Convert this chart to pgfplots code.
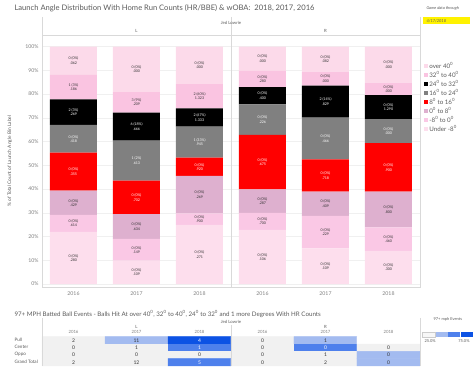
\documentclass[border=0pt]{standalone}
\usepackage{fontspec}
\setmainfont{Lato}
\usepackage{pgfplots}
\pgfplotsset{compat=1.18}
\definecolor{cforty}{RGB}{252,218,234}
\definecolor{cthirty}{RGB}{250,196,225}
\definecolor{cgray}{RGB}{128,128,128}
\definecolor{cred}{RGB}{255,0,0}
\definecolor{czero}{RGB}{222,176,207}
\definecolor{cmeight}{RGB}{250,200,229}
\definecolor{cunder}{RGB}{253,222,237}
\definecolor{txt}{RGB}{90,90,90}
\definecolor{bl1}{RGB}{163,187,240}
\definecolor{bl2}{RGB}{78,128,236}
\definecolor{bl3}{RGB}{12,82,228}
\newcommand{\dg}{\textsuperscript{0}}
\pgfplotsset{sq legend/.style={legend image code/.code={\fill[##1] (0pt,-2.2pt) rectangle (4.4pt,2.2pt);}}}
\begin{document}
\begin{tikzpicture}
\useasboundingbox (0,0) rectangle (474pt,371pt);
% main stacked bars
\begin{axis}[
  at={(42pt,84pt)}, anchor=south west,
  scale only axis, width=378pt, height=252pt,
  xmin=-0.5, xmax=5.5, ymin=-1.26, ymax=104.9,
  ybar stacked, bar width=47pt,
  axis line style={draw=gray!30, line width=0.4pt},
  xtick={0,...,5}, xticklabels={2016,2017,2018,2016,2017,2018},
  ytick={0,10,...,100},
  yticklabel={\pgfmathprintnumber{\tick}\%},
  /pgf/number format/assume math mode=true,
  major tick length=0pt,
  tick label style={font=\fontsize{5.2}{6}\selectfont, text=gray},
  xticklabel style={yshift=-1pt},
  ymajorgrids, grid style={gray!12, line width=0.4pt},
  ylabel={\% of Total Count of Launch Angle Bin Label},
  ylabel style={font=\fontsize{4.8}{6}\selectfont, text=txt, at={(axis description cs:-0.07,0.5)}},
  legend style={at={(1.01,0.895)}, anchor=north west, draw=none, fill=none,
    font=\fontsize{6.2}{7}\selectfont, text=txt, row sep=-0.2pt, inner sep=0pt,
    nodes={inner sep=1pt}},
  legend cell align=left,
  reverse legend,
]
\addplot[fill=cunder, draw=none, sq legend] coordinates {(0,22.0) (1,9.8) (2,24.9) (3,22.8) (4,15.0) (5,14.0)};
\addplot[fill=cmeight, draw=none, sq legend] coordinates {(0,7.1) (1,9.2) (2,4.9) (3,7.2) (4,13.7) (5,9.9)};
\addplot[fill=czero, draw=none, sq legend] coordinates {(0,10.2) (1,10.4) (2,15.7) (3,9.9) (4,10.2) (5,15.0)};
\addplot[fill=cred, draw=none, sq legend] coordinates {(0,16.0) (1,14.1) (2,7.7) (3,22.9) (4,13.6) (5,20.4)};
\addplot[fill=cgray, draw=none, sq legend] coordinates {(0,11.7) (1,16.9) (2,13.1) (3,12.9) (4,17.6) (5,10.2)};
\addplot[fill=black, draw=none, sq legend] coordinates {(0,10.8) (1,11.8) (2,7.7) (3,7.2) (4,13.5) (5,10.1)};
\addplot[fill=cthirty, draw=none, sq legend] coordinates {(0,10.3) (1,8.6) (2,10.2) (3,6.9) (4,5.9) (5,5.2)};
\addplot[fill=cforty, draw=none, sq legend] coordinates {(0,11.9) (1,19.2) (2,15.8) (3,10.2) (4,10.5) (5,15.2)};
\legend{Under -8\dg, -8\dg{} to 0\dg, 0\dg{} to 8\dg, 8\dg{} to 16\dg, 16\dg{} to 24\dg, 24\dg{} to 32\dg, 32\dg{} to 40\dg, over 40\dg}
\end{axis}
% segment labels
\begin{axis}[
  at={(42pt,84pt)}, anchor=south west,
  scale only axis, width=378pt, height=252pt,
  xmin=-0.5, xmax=5.5, ymin=-1.26, ymax=104.9,
  axis lines=none, clip=false,
  nodes near coords, point meta=explicit symbolic,
  every node near coord/.append style={anchor=center, align=center, inner sep=0pt,
    font=\fontsize{3.6}{4.4}\selectfont},
]
\addplot[draw=none, nodes near coords style={text=black!80}] coordinates {
 (0,11.0) [{0 (0\%)\\.280}] (0,25.55) [{0 (0\%)\\.614}] (0,34.2) [{0 (0\%)\\.429}] (0,82.95) [{1 (3\%)\\.186}] (0,94.05) [{0 (0\%)\\.062}]
 (1,4.9) [{0 (0\%)\\.109}] (1,14.4) [{0 (0\%)\\.149}] (1,24.2) [{0 (0\%)\\.634}] (1,76.5) [{3 (9\%)\\.209}] (1,90.4) [{0 (0\%)\\.000}]
 (2,12.45) [{0 (0\%)\\.271}] (2,27.35) [{0 (0\%)\\.900}] (2,37.65) [{0 (0\%)\\.269}] (2,79.1) [{2 (60\%)\\1.323}] (2,92.1) [{0 (0\%)\\.000}]
 (3,11.4) [{0 (0\%)\\.106}] (3,26.4) [{0 (0\%)\\.700}] (3,34.95) [{0 (0\%)\\.287}] (3,86.35) [{0 (0\%)\\.280}] (3,94.9) [{0 (0\%)\\.000}]
 (4,7.5) [{0 (0\%)\\.109}] (4,21.85) [{0 (0\%)\\.229}] (4,33.8) [{0 (0\%)\\.409}] (4,86.55) [{0 (0\%)\\.000}] (4,94.75) [{0 (0\%)\\.082}]
 (5,7.0) [{0 (0\%)\\.300}] (5,18.95) [{0 (0\%)\\.460}] (5,31.4) [{0 (0\%)\\.800}] (5,82.2) [{0 (0\%)\\.000}] (5,92.4) [{0 (0\%)\\.000}]
};
\addplot[draw=none, nodes near coords style={text=white}] coordinates {
 (0,47.3) [{0 (0\%)\\.355}] (0,61.15) [{0 (0\%)\\.418}] (0,72.4) [{2 (3\%)\\.269}]
 (1,36.45) [{0 (0\%)\\.702}] (1,51.95) [{1 (2\%)\\.613}] (1,66.3) [{6 (18\%)\\.666}]
 (2,49.35) [{0 (0\%)\\.920}] (2,59.75) [{1 (33\%)\\.945}] (2,70.15) [{2 (67\%)\\1.333}]
 (3,51.35) [{0 (0\%)\\.675}] (3,69.25) [{0 (0\%)\\.226}] (3,79.3) [{0 (0\%)\\.400}]
 (4,45.7) [{0 (0\%)\\.718}] (4,61.3) [{0 (0\%)\\.466}] (4,76.85) [{2 (14\%)\\.829}]
 (5,49.1) [{0 (0\%)\\.900}] (5,64.4) [{0 (0\%)\\.000}] (5,74.55) [{0 (0\%)\\1.290}]
};
\end{axis}
% table
\begin{axis}[
  at={(42pt,5pt)}, anchor=south west,
  scale only axis, width=378pt, height=29.3pt,
  xmin=-0.5, xmax=5.5, ymin=-0.5, ymax=3.5, y dir=reverse,
  axis lines=none, clip=false,
  colormap={tbl}{rgb255=(241,241,241) rgb255=(255,255,255) rgb255=(163,187,240) rgb255=(78,128,236) rgb255=(12,82,228)},
  colormap access=direct,
]
\addplot[matrix plot*, mesh/cols=6, point meta=explicit] table[meta=c] {
x y c
0 0 0
1 0 2
2 0 4
3 0 0
4 0 2
5 0 1
0 1 0
1 1 0
2 1 3
3 1 0
4 1 3
5 1 0
0 2 0
1 2 0
2 2 0
3 2 0
4 2 0
5 2 2
0 3 0
1 3 0
2 3 3
3 3 0
4 3 0
5 3 2
};
\addplot[draw=none, nodes near coords, point meta=explicit symbolic,
  every node near coord/.append style={anchor=center, inner sep=0pt, font=\fontsize{5}{6}\selectfont, text=black!80}] coordinates {
 (0,0) [2] (1,0) [11] (3,0) [0] (4,0) [1]
 (0,1) [0] (1,1) [1] (3,1) [0] (5,1) [0]
 (0,2) [0] (1,2) [0] (2,2) [0] (3,2) [0] (4,2) [1] (5,2) [0]
 (0,3) [2] (1,3) [12] (3,3) [0] (4,3) [2] (5,3) [0]
};
\addplot[draw=none, nodes near coords, point meta=explicit symbolic,
  every node near coord/.append style={anchor=center, inner sep=0pt, font=\fontsize{5}{6}\selectfont, text=white}] coordinates {
 (2,0) [4] (2,1) [1] (4,1) [0] (2,3) [5]
};
\end{axis}
% decorations and texts
\draw[gray!30, line width=0.4pt] (42pt,354pt) -- (42pt,336pt) (231pt,354pt) -- (231pt,84pt) (420pt,354pt) -- (420pt,336pt);
\node[anchor=west, font=\fontsize{7.6}{9}\selectfont, text=txt] at (11pt,363pt) {Launch Angle Distribution With Home Run Counts (HR/BBE) \& wOBA:\ \ 2018, 2017, 2016};
\node[anchor=west, font=\itshape\fontsize{4}{5}\selectfont, text=txt] at (423pt,363pt) {Game data through};
\fill[yellow] (423pt,346.5pt) rectangle (470pt,353.5pt);
\node[anchor=west, font=\itshape\fontsize{4}{5}\selectfont, text=txt] at (423pt,350pt) {4/17/2018};
\node[font=\fontsize{4.3}{5}\selectfont, text=txt] at (231pt,348.5pt) {Jed Lowrie};
\node[font=\fontsize{4.3}{5}\selectfont, text=txt] at (136.5pt,340.5pt) {L};
\node[font=\fontsize{4.3}{5}\selectfont, text=txt] at (325.5pt,340.5pt) {R};
% table headers
\node[anchor=west, font=\fontsize{6.2}{7}\selectfont, text=txt] at (11pt,57pt) {97+ MPH Batted Ball Events - Balls Hit At over 40\dg, 32\dg{} to 40\dg, 24\dg{} to 32\dg{} and 1 more Degrees With HR Counts};
\node[font=\fontsize{4.3}{5}\selectfont, text=txt] at (231pt,49pt) {Jed Lowrie};
\node[font=\fontsize{4.3}{5}\selectfont, text=txt] at (136.5pt,44pt) {L};
\node[font=\fontsize{4.3}{5}\selectfont, text=txt] at (325.5pt,44pt) {R};
\foreach \xx/\yy in {73.5/2016,136.5/2017,199.5/2018,262.5/2016,325.5/2017,388.5/2018}
  \node[font=\fontsize{4.3}{5}\selectfont, text=gray] at (\xx pt,38.8pt) {\yy};
\foreach \yy/\lab in {31/Pull,23.7/Center,16.3/Oppo,9/Grand Total}
  \node[anchor=west, font=\fontsize{4.6}{5}\selectfont, text=txt] at (11pt,\yy pt) {\lab};
\draw[gray!30, line width=0.4pt] (42pt,53pt) -- (42pt,5pt) (231pt,46pt) -- (231pt,5pt) (420pt,53pt) -- (420pt,5pt);
% colour legend
\node[anchor=west, font=\fontsize{4}{5}\selectfont, text=txt] at (430pt,52pt) {97+ mph Events};
\draw[gray!40, fill=gray!6, line width=0.3pt] (422pt,34pt) rectangle (435pt,38.5pt);
\fill[bl1] (435.5pt,34pt) rectangle (447.5pt,38.5pt);
\fill[bl2] (448pt,34pt) rectangle (460pt,38.5pt);
\fill[bl3] (460.5pt,34pt) rectangle (473pt,38.5pt);
\node[anchor=west, font=\fontsize{4}{5}\selectfont, text=txt] at (421pt,29.5pt) {25.0\%};
\node[anchor=east, font=\fontsize{4}{5}\selectfont, text=txt] at (473pt,29.5pt) {75.0\%};
\end{tikzpicture}
\end{document}
